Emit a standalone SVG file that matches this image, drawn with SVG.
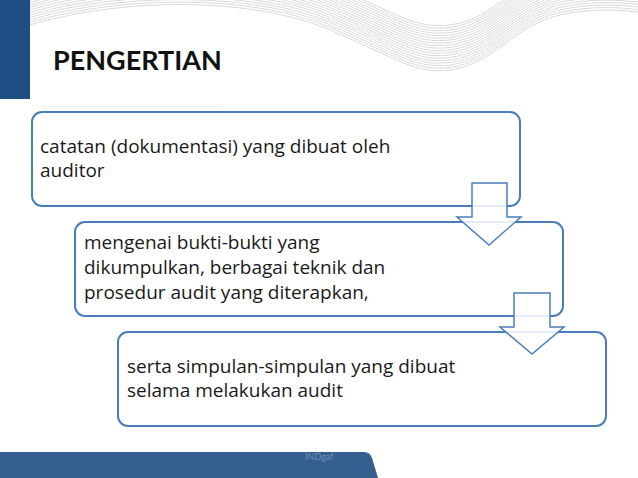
<svg xmlns="http://www.w3.org/2000/svg" width="638" height="478" viewBox="0 0 638 478">
<defs>
<style>
.box{fill:#ffffff;stroke:#4a7ebb;stroke-width:2}
.arr{fill:#ffffff;fill-opacity:0.85;stroke:#4a7ebb;stroke-width:1.5;stroke-linejoin:miter}
.t{font-family:"Open Sans",sans-serif;font-size:19px;fill:#1a1a1a}
.w{fill:none;stroke:#c8c8c8;stroke-width:0.7}
</style>
<path id="wv" d="M30 25 C120 -2 250 -4 330 30 C400 60 415 74 450 70 C495 64 515 25 560 15 C590 8 620 10 638 12"/>
</defs>
<rect width="638" height="478" fill="#ffffff"/>
<g id="waves">
<use href="#wv" class="w"/>
<use href="#wv" class="w" transform="translate(0,-2.5)"/>
<use href="#wv" class="w" transform="translate(0,-5)"/>
<use href="#wv" class="w" transform="translate(0,-7.5)"/>
<use href="#wv" class="w" transform="translate(0,-10)"/>
<use href="#wv" class="w" transform="translate(0,-12.5)"/>
<use href="#wv" class="w" transform="translate(0,-15)"/>
<use href="#wv" class="w" transform="translate(0,-17.5)"/>
<use href="#wv" class="w" transform="translate(0,-20)"/>
<use href="#wv" class="w" transform="translate(0,-22.5)"/>
<use href="#wv" class="w" transform="translate(0,-25)"/>
<use href="#wv" class="w" transform="translate(0,-27.5)"/>
<use href="#wv" class="w" transform="translate(0,-30)"/>
<use href="#wv" class="w" transform="translate(0,-32.5)"/>
<use href="#wv" class="w" transform="translate(0,-35)"/>
<use href="#wv" class="w" transform="translate(0,-37.5)"/>
<use href="#wv" class="w" transform="translate(0,-40)"/>
<use href="#wv" class="w" transform="translate(0,-42.5)"/>
<use href="#wv" class="w" transform="translate(0,-45)"/>
</g>
<rect id="sidebar" x="0" y="0" width="30" height="99" fill="#1f4e82"/>
<line x1="40" y1="107" x2="220" y2="107" stroke="#eeeeee" stroke-width="1"/>
<text id="title" x="53" y="70" font-family="Lato,'Open Sans',sans-serif" font-weight="bold" font-size="27" fill="#111111">PENGERTIAN</text>
<g id="box1">
<rect class="box" x="32" y="112" width="488" height="94" rx="10"/>
<text class="t" x="40" y="153">catatan (dokumentasi) yang dibuat oleh</text>
<text class="t" x="40" y="177">auditor</text>
</g>
<g id="box2">
<rect class="box" x="75" y="222" width="488" height="94" rx="10"/>
<text class="t" x="84" y="249">mengenai bukti-bukti yang</text>
<text class="t" x="84" y="274">dikumpulkan, berbagai teknik dan</text>
<text class="t" x="84" y="299">prosedur audit yang diterapkan,</text>
</g>
<g id="box3">
<rect class="box" x="118" y="332" width="488" height="94" rx="10"/>
<text class="t" x="127" y="373">serta simpulan-simpulan yang dibuat</text>
<text class="t" x="127" y="397">selama melakukan audit</text>
</g>
<g id="connectors">
<path class="arr" d="M472 183 H507 V217 H521 L489 245 L457 217 H472 Z"/>
<path class="arr" d="M514 293 H550 V327 H564 L532 354 L500 327 H514 Z"/>
</g>
<g id="footer">
<path d="M0 452 H364 Q370 452 372 458 L378 478 H0 Z" fill="#355f8f"/>
<text x="305" y="460" font-family="Lato,'Open Sans',sans-serif" font-size="9" fill="#6f8db3">INDgaf</text>
</g>
</svg>
